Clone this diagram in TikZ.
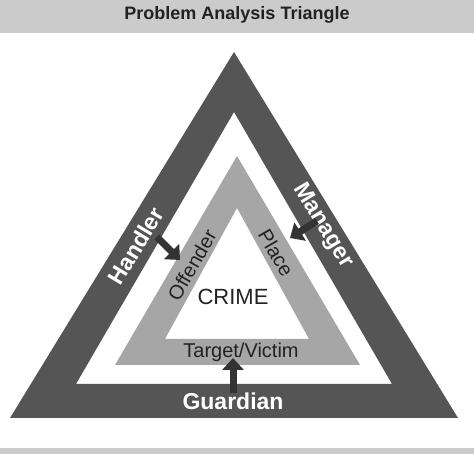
\documentclass[tikz,border=0pt]{standalone}
\usepackage{xcolor}
\usepackage{fontspec}
\setmainfont{Liberation Sans}
\usetikzlibrary{arrows.meta}

\definecolor{darkband}{HTML}{555555}
\definecolor{lightband}{HTML}{A6A6A6}
\definecolor{strip}{HTML}{CBCBCB}
\definecolor{arrowgray}{HTML}{333333}
\definecolor{ink}{HTML}{222222}

\begin{document}
\begin{tikzpicture}[x=1pt,y=1pt,
  whitelabel/.style={text=white,font=\bfseries\fontsize{23}{23}\selectfont},
  graylabel/.style={text=ink,font=\fontsize{20}{20}\selectfont},
  push/.style={draw=arrowgray,line width=7pt,-{Triangle[width=21pt,length=12pt]}}]
\useasboundingbox (0,0) rectangle (474,454);
% title strip
\fill[strip] (0,421) rectangle (474,454);
\fill[strip] (0,0) rectangle (474,6);
\node[text=ink,font=\bfseries\fontsize{18}{18}\selectfont] (title) at (237,439) {Problem Analysis Triangle};
% outer band
\fill[darkband,even odd rule] (234,402) -- (10,36) -- (458,36) -- cycle
      (234,342) -- (76,70) -- (392,70) -- cycle;
% inner band
\fill[lightband,even odd rule] (237,298) -- (115,89) -- (360,89) -- cycle
      (237,246) -- (165,115) -- (309,115) -- cycle;
% labels
\node[whitelabel,rotate=59] (handler) at (136,208) {Handler};
\node[whitelabel,rotate=-59] (manager) at (323,228) {Manager};
\node[whitelabel] (guardian) at (233,53) {Guardian};
\node[graylabel,rotate=60] (offender) at (192,189) {Offender};
\node[graylabel,rotate=-60] (place) at (276,201) {Place};
\node[graylabel] (target) at (241,102) {Target/Victim};
\node[text=ink,font=\fontsize{22}{22}\selectfont] (crime) at (233,157) {CRIME};
% arrows
\coordinate (handler tail) at (157,217);
\coordinate (handler tip) at (180,194);
\coordinate (manager tail) at (317,233);
\coordinate (manager tip) at (290,216);
\coordinate (guardian tail) at (233,61);
\coordinate (guardian tip) at (233,96);
\draw[push] (handler tail) -- (handler tip);
\draw[push] (manager tail) -- (manager tip);
\draw[push] (guardian tail) -- (guardian tip);
\end{tikzpicture}
\end{document}
